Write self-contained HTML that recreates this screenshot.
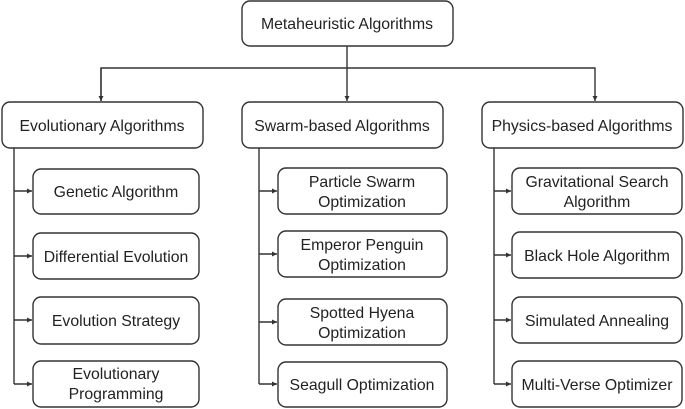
<!DOCTYPE html>
<html><head><meta charset="utf-8"><style>
html,body{margin:0;padding:0;background:#fff;}
svg{display:block;}
text{font-family:"Liberation Sans",Arial,sans-serif;font-size:15.8px;fill:#222;text-anchor:middle;}
rect{fill:#fff;stroke:#333;stroke-width:1.4;}
line,polyline{stroke:#333;stroke-width:1.4;fill:none;}
</style></head><body>
<svg width="685" height="409" viewBox="0 0 685 409" xmlns="http://www.w3.org/2000/svg">
<defs><marker id="a" markerWidth="6" markerHeight="6" refX="5" refY="3" orient="auto" markerUnits="userSpaceOnUse"><path d="M0,0.5 L5,3 L0,5.5 z" fill="#333"/></marker></defs>
<line x1="347" y1="46" x2="347" y2="101" marker-end="url(#a)"/>
<polyline points="101,101 101,68 595,68 595,101" marker-end="url(#a)"/>
<line x1="101" y1="68" x2="101" y2="101" marker-end="url(#a)"/>
<rect x="242" y="1" width="211" height="45" rx="8"/>
<text x="347" y="29">Metaheuristic Algorithms</text>
<rect x="2" y="102" width="201" height="46" rx="8"/>
<text x="102" y="131">Evolutionary Algorithms</text>
<rect x="242" y="102" width="201" height="46" rx="8"/>
<text x="342" y="131">Swarm-based Algorithms</text>
<rect x="482" y="102" width="201" height="46" rx="8"/>
<text x="582" y="131">Physics-based Algorithms</text>
<polyline points="14,148 14,384"/>
<line x1="14" y1="191" x2="32" y2="191" marker-end="url(#a)"/>
<line x1="14" y1="256" x2="32" y2="256" marker-end="url(#a)"/>
<line x1="14" y1="320" x2="32" y2="320" marker-end="url(#a)"/>
<line x1="14" y1="384" x2="32" y2="384" marker-end="url(#a)"/>
<rect x="33" y="169" width="166" height="45" rx="8"/><text x="116" y="197">Genetic Algorithm</text>
<rect x="33" y="233" width="166" height="46" rx="8"/><text x="116" y="262">Differential Evolution</text>
<rect x="33" y="297" width="166" height="47" rx="8"/><text x="116" y="326">Evolution Strategy</text>
<rect x="33" y="361" width="166" height="46" rx="8"/><text x="116" y="379">Evolutionary</text><text x="116" y="399">Programming</text>
<polyline points="259,148 259,384"/>
<line x1="259" y1="191" x2="277" y2="191" marker-end="url(#a)"/>
<line x1="259" y1="254" x2="277" y2="254" marker-end="url(#a)"/>
<line x1="259" y1="322" x2="277" y2="322" marker-end="url(#a)"/>
<line x1="259" y1="384" x2="277" y2="384" marker-end="url(#a)"/>
<rect x="278" y="168" width="169" height="46" rx="8"/><text x="362" y="187">Particle Swarm</text><text x="362" y="207">Optimization</text>
<rect x="278" y="231" width="169" height="46" rx="8"/><text x="362" y="250">Emperor Penguin</text><text x="362" y="270">Optimization</text>
<rect x="278" y="299" width="169" height="46" rx="8"/><text x="362" y="318">Spotted Hyena</text><text x="362" y="338">Optimization</text>
<rect x="278" y="362" width="169" height="45" rx="8"/><text x="362" y="390">Seagull Optimization</text>
<polyline points="494,148 494,384"/>
<line x1="494" y1="191" x2="511" y2="191" marker-end="url(#a)"/>
<line x1="494" y1="255" x2="511" y2="255" marker-end="url(#a)"/>
<line x1="494" y1="320" x2="511" y2="320" marker-end="url(#a)"/>
<line x1="494" y1="384" x2="511" y2="384" marker-end="url(#a)"/>
<rect x="512" y="168" width="170" height="46" rx="8"/><text x="597" y="187">Gravitational Search</text><text x="597" y="207">Algorithm</text>
<rect x="512" y="232" width="170" height="46" rx="8"/><text x="597" y="261">Black Hole Algorithm</text>
<rect x="512" y="297" width="170" height="46" rx="8"/><text x="597" y="326">Simulated Annealing</text>
<rect x="512" y="361" width="170" height="46" rx="8"/><text x="597" y="390">Multi-Verse Optimizer</text>
</svg>
</body></html>
